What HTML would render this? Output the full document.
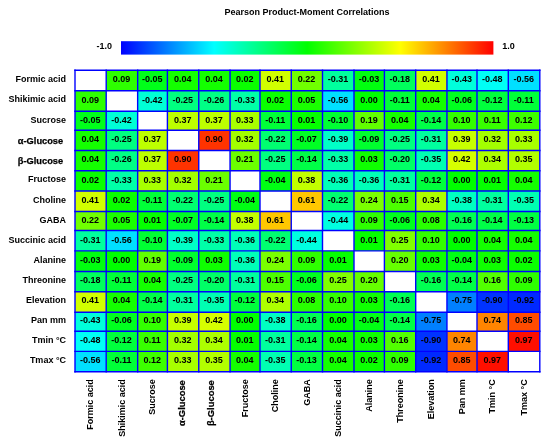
<!DOCTYPE html>
<html><head><meta charset="utf-8"><title>Pearson Product-Moment Correlations</title>
<style>
html,body{margin:0;padding:0;background:#fff;}
body{width:550px;height:448px;overflow:hidden;}
svg{display:block;}
text{font-family:"Liberation Sans",Arial,Helvetica,sans-serif;font-weight:bold;font-size:9px;fill:#000;}
</style></head><body>
<svg width="550" height="448" viewBox="0 0 550 448">
<defs><linearGradient id="cb" x1="0" y1="0" x2="1" y2="0">
<stop offset="0" stop-color="#0000ff"/><stop offset="0.25" stop-color="#00ffff"/><stop offset="0.5" stop-color="#00ff00"/><stop offset="0.75" stop-color="#ffff00"/><stop offset="1" stop-color="#ff0000"/>
</linearGradient></defs>
<rect x="0" y="0" width="550" height="448" fill="#fff"/>
<text x="306.9" y="15" text-anchor="middle">Pearson Product-Moment Correlations</text>
<rect x="121" y="41.2" width="372.4" height="13.4" fill="url(#cb)"/>
<text x="112" y="49" text-anchor="end">-1.0</text>
<text x="502.3" y="49">1.0</text>
<g>
<rect x="106.20" y="70.30" width="31.45" height="20.50" fill="#2eff00"/>
<rect x="137.65" y="70.30" width="29.75" height="20.50" fill="#00ff1a"/>
<rect x="167.40" y="70.30" width="31.35" height="20.50" fill="#14ff00"/>
<rect x="198.75" y="70.30" width="31.30" height="20.50" fill="#14ff00"/>
<rect x="230.05" y="70.30" width="29.95" height="20.50" fill="#0aff00"/>
<rect x="260.00" y="70.30" width="31.25" height="20.50" fill="#d1ff00"/>
<rect x="291.25" y="70.30" width="31.25" height="20.50" fill="#70ff00"/>
<rect x="322.50" y="70.30" width="31.50" height="20.50" fill="#00ff9e"/>
<rect x="354.00" y="70.30" width="30.40" height="20.50" fill="#00ff0f"/>
<rect x="384.40" y="70.30" width="31.30" height="20.50" fill="#00ff5c"/>
<rect x="415.70" y="70.30" width="31.25" height="20.50" fill="#d1ff00"/>
<rect x="446.95" y="70.30" width="30.05" height="20.50" fill="#00ffdb"/>
<rect x="477.00" y="70.30" width="31.30" height="20.50" fill="#00fff5"/>
<rect x="508.30" y="70.30" width="31.50" height="20.50" fill="#00e0ff"/>
<rect x="75.00" y="90.80" width="31.20" height="20.40" fill="#2eff00"/>
<rect x="137.65" y="90.80" width="29.75" height="20.40" fill="#00ffd6"/>
<rect x="167.40" y="90.80" width="31.35" height="20.40" fill="#00ff80"/>
<rect x="198.75" y="90.80" width="31.30" height="20.40" fill="#00ff85"/>
<rect x="230.05" y="90.80" width="29.95" height="20.40" fill="#00ffa8"/>
<rect x="260.00" y="90.80" width="31.25" height="20.40" fill="#0aff00"/>
<rect x="291.25" y="90.80" width="31.25" height="20.40" fill="#1aff00"/>
<rect x="322.50" y="90.80" width="31.50" height="20.40" fill="#00e0ff"/>
<rect x="354.00" y="90.80" width="30.40" height="20.40" fill="#00ff00"/>
<rect x="384.40" y="90.80" width="31.30" height="20.40" fill="#00ff38"/>
<rect x="415.70" y="90.80" width="31.25" height="20.40" fill="#14ff00"/>
<rect x="446.95" y="90.80" width="30.05" height="20.40" fill="#00ff1f"/>
<rect x="477.00" y="90.80" width="31.30" height="20.40" fill="#00ff3d"/>
<rect x="508.30" y="90.80" width="31.50" height="20.40" fill="#00ff38"/>
<rect x="75.00" y="111.20" width="31.20" height="19.10" fill="#00ff1a"/>
<rect x="106.20" y="111.20" width="31.45" height="19.10" fill="#00ffd6"/>
<rect x="167.40" y="111.20" width="31.35" height="19.10" fill="#bdff00"/>
<rect x="198.75" y="111.20" width="31.30" height="19.10" fill="#bdff00"/>
<rect x="230.05" y="111.20" width="29.95" height="19.10" fill="#a8ff00"/>
<rect x="260.00" y="111.20" width="31.25" height="19.10" fill="#00ff38"/>
<rect x="291.25" y="111.20" width="31.25" height="19.10" fill="#05ff00"/>
<rect x="322.50" y="111.20" width="31.50" height="19.10" fill="#00ff33"/>
<rect x="354.00" y="111.20" width="30.40" height="19.10" fill="#61ff00"/>
<rect x="384.40" y="111.20" width="31.30" height="19.10" fill="#14ff00"/>
<rect x="415.70" y="111.20" width="31.25" height="19.10" fill="#00ff47"/>
<rect x="446.95" y="111.20" width="30.05" height="19.10" fill="#33ff00"/>
<rect x="477.00" y="111.20" width="31.30" height="19.10" fill="#38ff00"/>
<rect x="508.30" y="111.20" width="31.50" height="19.10" fill="#3dff00"/>
<rect x="75.00" y="130.30" width="31.20" height="20.25" fill="#14ff00"/>
<rect x="106.20" y="130.30" width="31.45" height="20.25" fill="#00ff80"/>
<rect x="137.65" y="130.30" width="29.75" height="20.25" fill="#bdff00"/>
<rect x="198.75" y="130.30" width="31.30" height="20.25" fill="#ff3300"/>
<rect x="230.05" y="130.30" width="29.95" height="20.25" fill="#a3ff00"/>
<rect x="260.00" y="130.30" width="31.25" height="20.25" fill="#00ff70"/>
<rect x="291.25" y="130.30" width="31.25" height="20.25" fill="#00ff24"/>
<rect x="322.50" y="130.30" width="31.50" height="20.25" fill="#00ffc7"/>
<rect x="354.00" y="130.30" width="30.40" height="20.25" fill="#00ff2e"/>
<rect x="384.40" y="130.30" width="31.30" height="20.25" fill="#00ff80"/>
<rect x="415.70" y="130.30" width="31.25" height="20.25" fill="#00ff9e"/>
<rect x="446.95" y="130.30" width="30.05" height="20.25" fill="#c7ff00"/>
<rect x="477.00" y="130.30" width="31.30" height="20.25" fill="#a3ff00"/>
<rect x="508.30" y="130.30" width="31.50" height="20.25" fill="#a8ff00"/>
<rect x="75.00" y="150.55" width="31.20" height="20.25" fill="#14ff00"/>
<rect x="106.20" y="150.55" width="31.45" height="20.25" fill="#00ff85"/>
<rect x="137.65" y="150.55" width="29.75" height="20.25" fill="#bdff00"/>
<rect x="167.40" y="150.55" width="31.35" height="20.25" fill="#ff3300"/>
<rect x="230.05" y="150.55" width="29.95" height="20.25" fill="#6bff00"/>
<rect x="260.00" y="150.55" width="31.25" height="20.25" fill="#00ff80"/>
<rect x="291.25" y="150.55" width="31.25" height="20.25" fill="#00ff47"/>
<rect x="322.50" y="150.55" width="31.50" height="20.25" fill="#00ffa8"/>
<rect x="354.00" y="150.55" width="30.40" height="20.25" fill="#0fff00"/>
<rect x="384.40" y="150.55" width="31.30" height="20.25" fill="#00ff66"/>
<rect x="415.70" y="150.55" width="31.25" height="20.25" fill="#00ffb2"/>
<rect x="446.95" y="150.55" width="30.05" height="20.25" fill="#d6ff00"/>
<rect x="477.00" y="150.55" width="31.30" height="20.25" fill="#adff00"/>
<rect x="508.30" y="150.55" width="31.50" height="20.25" fill="#b2ff00"/>
<rect x="75.00" y="170.80" width="31.20" height="20.25" fill="#0aff00"/>
<rect x="106.20" y="170.80" width="31.45" height="20.25" fill="#00ffa8"/>
<rect x="137.65" y="170.80" width="29.75" height="20.25" fill="#a8ff00"/>
<rect x="167.40" y="170.80" width="31.35" height="20.25" fill="#a3ff00"/>
<rect x="198.75" y="170.80" width="31.30" height="20.25" fill="#6bff00"/>
<rect x="260.00" y="170.80" width="31.25" height="20.25" fill="#00ff14"/>
<rect x="291.25" y="170.80" width="31.25" height="20.25" fill="#c2ff00"/>
<rect x="322.50" y="170.80" width="31.50" height="20.25" fill="#00ffb8"/>
<rect x="354.00" y="170.80" width="30.40" height="20.25" fill="#00ffb8"/>
<rect x="384.40" y="170.80" width="31.30" height="20.25" fill="#00ff9e"/>
<rect x="415.70" y="170.80" width="31.25" height="20.25" fill="#00ff3d"/>
<rect x="446.95" y="170.80" width="30.05" height="20.25" fill="#00ff00"/>
<rect x="477.00" y="170.80" width="31.30" height="20.25" fill="#05ff00"/>
<rect x="508.30" y="170.80" width="31.50" height="20.25" fill="#14ff00"/>
<rect x="75.00" y="191.05" width="31.20" height="20.40" fill="#d1ff00"/>
<rect x="106.20" y="191.05" width="31.45" height="20.40" fill="#0aff00"/>
<rect x="137.65" y="191.05" width="29.75" height="20.40" fill="#00ff38"/>
<rect x="167.40" y="191.05" width="31.35" height="20.40" fill="#00ff70"/>
<rect x="198.75" y="191.05" width="31.30" height="20.40" fill="#00ff80"/>
<rect x="230.05" y="191.05" width="29.95" height="20.40" fill="#00ff14"/>
<rect x="291.25" y="191.05" width="31.25" height="20.40" fill="#ffc700"/>
<rect x="322.50" y="191.05" width="31.50" height="20.40" fill="#00ff70"/>
<rect x="354.00" y="191.05" width="30.40" height="20.40" fill="#7aff00"/>
<rect x="384.40" y="191.05" width="31.30" height="20.40" fill="#4cff00"/>
<rect x="415.70" y="191.05" width="31.25" height="20.40" fill="#adff00"/>
<rect x="446.95" y="191.05" width="30.05" height="20.40" fill="#00ffc2"/>
<rect x="477.00" y="191.05" width="31.30" height="20.40" fill="#00ff9e"/>
<rect x="508.30" y="191.05" width="31.50" height="20.40" fill="#00ffb2"/>
<rect x="75.00" y="211.45" width="31.20" height="19.00" fill="#70ff00"/>
<rect x="106.20" y="211.45" width="31.45" height="19.00" fill="#1aff00"/>
<rect x="137.65" y="211.45" width="29.75" height="19.00" fill="#05ff00"/>
<rect x="167.40" y="211.45" width="31.35" height="19.00" fill="#00ff24"/>
<rect x="198.75" y="211.45" width="31.30" height="19.00" fill="#00ff47"/>
<rect x="230.05" y="211.45" width="29.95" height="19.00" fill="#c2ff00"/>
<rect x="260.00" y="211.45" width="31.25" height="19.00" fill="#ffc700"/>
<rect x="322.50" y="211.45" width="31.50" height="19.00" fill="#00ffe0"/>
<rect x="354.00" y="211.45" width="30.40" height="19.00" fill="#2eff00"/>
<rect x="384.40" y="211.45" width="31.30" height="19.00" fill="#00ff1f"/>
<rect x="415.70" y="211.45" width="31.25" height="19.00" fill="#29ff00"/>
<rect x="446.95" y="211.45" width="30.05" height="19.00" fill="#00ff52"/>
<rect x="477.00" y="211.45" width="31.30" height="19.00" fill="#00ff47"/>
<rect x="508.30" y="211.45" width="31.50" height="19.00" fill="#00ff42"/>
<rect x="75.00" y="230.45" width="31.20" height="20.45" fill="#00ff9e"/>
<rect x="106.20" y="230.45" width="31.45" height="20.45" fill="#00e0ff"/>
<rect x="137.65" y="230.45" width="29.75" height="20.45" fill="#00ff33"/>
<rect x="167.40" y="230.45" width="31.35" height="20.45" fill="#00ffc7"/>
<rect x="198.75" y="230.45" width="31.30" height="20.45" fill="#00ffa8"/>
<rect x="230.05" y="230.45" width="29.95" height="20.45" fill="#00ffb8"/>
<rect x="260.00" y="230.45" width="31.25" height="20.45" fill="#00ff70"/>
<rect x="291.25" y="230.45" width="31.25" height="20.45" fill="#00ffe0"/>
<rect x="354.00" y="230.45" width="30.40" height="20.45" fill="#05ff00"/>
<rect x="384.40" y="230.45" width="31.30" height="20.45" fill="#80ff00"/>
<rect x="415.70" y="230.45" width="31.25" height="20.45" fill="#33ff00"/>
<rect x="446.95" y="230.45" width="30.05" height="20.45" fill="#00ff00"/>
<rect x="477.00" y="230.45" width="31.30" height="20.45" fill="#14ff00"/>
<rect x="508.30" y="230.45" width="31.50" height="20.45" fill="#14ff00"/>
<rect x="75.00" y="250.90" width="31.20" height="20.60" fill="#00ff0f"/>
<rect x="106.20" y="250.90" width="31.45" height="20.60" fill="#00ff00"/>
<rect x="137.65" y="250.90" width="29.75" height="20.60" fill="#61ff00"/>
<rect x="167.40" y="250.90" width="31.35" height="20.60" fill="#00ff2e"/>
<rect x="198.75" y="250.90" width="31.30" height="20.60" fill="#0fff00"/>
<rect x="230.05" y="250.90" width="29.95" height="20.60" fill="#00ffb8"/>
<rect x="260.00" y="250.90" width="31.25" height="20.60" fill="#7aff00"/>
<rect x="291.25" y="250.90" width="31.25" height="20.60" fill="#2eff00"/>
<rect x="322.50" y="250.90" width="31.50" height="20.60" fill="#05ff00"/>
<rect x="384.40" y="250.90" width="31.30" height="20.60" fill="#66ff00"/>
<rect x="415.70" y="250.90" width="31.25" height="20.60" fill="#0fff00"/>
<rect x="446.95" y="250.90" width="30.05" height="20.60" fill="#00ff14"/>
<rect x="477.00" y="250.90" width="31.30" height="20.60" fill="#0fff00"/>
<rect x="508.30" y="250.90" width="31.50" height="20.60" fill="#0aff00"/>
<rect x="75.00" y="271.50" width="31.20" height="20.20" fill="#00ff5c"/>
<rect x="106.20" y="271.50" width="31.45" height="20.20" fill="#00ff38"/>
<rect x="137.65" y="271.50" width="29.75" height="20.20" fill="#14ff00"/>
<rect x="167.40" y="271.50" width="31.35" height="20.20" fill="#00ff80"/>
<rect x="198.75" y="271.50" width="31.30" height="20.20" fill="#00ff66"/>
<rect x="230.05" y="271.50" width="29.95" height="20.20" fill="#00ff9e"/>
<rect x="260.00" y="271.50" width="31.25" height="20.20" fill="#4cff00"/>
<rect x="291.25" y="271.50" width="31.25" height="20.20" fill="#00ff1f"/>
<rect x="322.50" y="271.50" width="31.50" height="20.20" fill="#80ff00"/>
<rect x="354.00" y="271.50" width="30.40" height="20.20" fill="#66ff00"/>
<rect x="415.70" y="271.50" width="31.25" height="20.20" fill="#00ff52"/>
<rect x="446.95" y="271.50" width="30.05" height="20.20" fill="#00ff47"/>
<rect x="477.00" y="271.50" width="31.30" height="20.20" fill="#52ff00"/>
<rect x="508.30" y="271.50" width="31.50" height="20.20" fill="#2eff00"/>
<rect x="75.00" y="291.70" width="31.20" height="20.50" fill="#d1ff00"/>
<rect x="106.20" y="291.70" width="31.45" height="20.50" fill="#14ff00"/>
<rect x="137.65" y="291.70" width="29.75" height="20.50" fill="#00ff47"/>
<rect x="167.40" y="291.70" width="31.35" height="20.50" fill="#00ff9e"/>
<rect x="198.75" y="291.70" width="31.30" height="20.50" fill="#00ffb2"/>
<rect x="230.05" y="291.70" width="29.95" height="20.50" fill="#00ff3d"/>
<rect x="260.00" y="291.70" width="31.25" height="20.50" fill="#adff00"/>
<rect x="291.25" y="291.70" width="31.25" height="20.50" fill="#29ff00"/>
<rect x="322.50" y="291.70" width="31.50" height="20.50" fill="#33ff00"/>
<rect x="354.00" y="291.70" width="30.40" height="20.50" fill="#0fff00"/>
<rect x="384.40" y="291.70" width="31.30" height="20.50" fill="#00ff52"/>
<rect x="446.95" y="291.70" width="30.05" height="20.50" fill="#0080ff"/>
<rect x="477.00" y="291.70" width="31.30" height="20.50" fill="#0033ff"/>
<rect x="508.30" y="291.70" width="31.50" height="20.50" fill="#0029ff"/>
<rect x="75.00" y="312.20" width="31.20" height="19.10" fill="#00ffdb"/>
<rect x="106.20" y="312.20" width="31.45" height="19.10" fill="#00ff1f"/>
<rect x="137.65" y="312.20" width="29.75" height="19.10" fill="#33ff00"/>
<rect x="167.40" y="312.20" width="31.35" height="19.10" fill="#c7ff00"/>
<rect x="198.75" y="312.20" width="31.30" height="19.10" fill="#d6ff00"/>
<rect x="230.05" y="312.20" width="29.95" height="19.10" fill="#00ff00"/>
<rect x="260.00" y="312.20" width="31.25" height="19.10" fill="#00ffc2"/>
<rect x="291.25" y="312.20" width="31.25" height="19.10" fill="#00ff52"/>
<rect x="322.50" y="312.20" width="31.50" height="19.10" fill="#00ff00"/>
<rect x="354.00" y="312.20" width="30.40" height="19.10" fill="#00ff14"/>
<rect x="384.40" y="312.20" width="31.30" height="19.10" fill="#00ff47"/>
<rect x="415.70" y="312.20" width="31.25" height="19.10" fill="#0080ff"/>
<rect x="477.00" y="312.20" width="31.30" height="19.10" fill="#ff8500"/>
<rect x="508.30" y="312.20" width="31.50" height="19.10" fill="#ff4c00"/>
<rect x="75.00" y="331.30" width="31.20" height="20.10" fill="#00fff5"/>
<rect x="106.20" y="331.30" width="31.45" height="20.10" fill="#00ff3d"/>
<rect x="137.65" y="331.30" width="29.75" height="20.10" fill="#38ff00"/>
<rect x="167.40" y="331.30" width="31.35" height="20.10" fill="#a3ff00"/>
<rect x="198.75" y="331.30" width="31.30" height="20.10" fill="#adff00"/>
<rect x="230.05" y="331.30" width="29.95" height="20.10" fill="#05ff00"/>
<rect x="260.00" y="331.30" width="31.25" height="20.10" fill="#00ff9e"/>
<rect x="291.25" y="331.30" width="31.25" height="20.10" fill="#00ff47"/>
<rect x="322.50" y="331.30" width="31.50" height="20.10" fill="#14ff00"/>
<rect x="354.00" y="331.30" width="30.40" height="20.10" fill="#0fff00"/>
<rect x="384.40" y="331.30" width="31.30" height="20.10" fill="#52ff00"/>
<rect x="415.70" y="331.30" width="31.25" height="20.10" fill="#0033ff"/>
<rect x="446.95" y="331.30" width="30.05" height="20.10" fill="#ff8500"/>
<rect x="508.30" y="331.30" width="31.50" height="20.10" fill="#ff0f00"/>
<rect x="75.00" y="351.40" width="31.20" height="20.40" fill="#00e0ff"/>
<rect x="106.20" y="351.40" width="31.45" height="20.40" fill="#00ff38"/>
<rect x="137.65" y="351.40" width="29.75" height="20.40" fill="#3dff00"/>
<rect x="167.40" y="351.40" width="31.35" height="20.40" fill="#a8ff00"/>
<rect x="198.75" y="351.40" width="31.30" height="20.40" fill="#b2ff00"/>
<rect x="230.05" y="351.40" width="29.95" height="20.40" fill="#14ff00"/>
<rect x="260.00" y="351.40" width="31.25" height="20.40" fill="#00ffb2"/>
<rect x="291.25" y="351.40" width="31.25" height="20.40" fill="#00ff42"/>
<rect x="322.50" y="351.40" width="31.50" height="20.40" fill="#14ff00"/>
<rect x="354.00" y="351.40" width="30.40" height="20.40" fill="#0aff00"/>
<rect x="384.40" y="351.40" width="31.30" height="20.40" fill="#2eff00"/>
<rect x="415.70" y="351.40" width="31.25" height="20.40" fill="#0029ff"/>
<rect x="446.95" y="351.40" width="30.05" height="20.40" fill="#ff4c00"/>
<rect x="477.00" y="351.40" width="31.30" height="20.40" fill="#ff0f00"/>
</g>
<g stroke="#0000ff" stroke-width="1.4" fill="none" stroke-linecap="square">
<line x1="75.00" y1="70.30" x2="75.00" y2="371.80"/>
<line x1="75.00" y1="70.30" x2="539.80" y2="70.30"/>
<line x1="106.20" y1="70.30" x2="106.20" y2="371.80"/>
<line x1="75.00" y1="90.80" x2="539.80" y2="90.80"/>
<line x1="137.65" y1="70.30" x2="137.65" y2="371.80"/>
<line x1="75.00" y1="111.20" x2="539.80" y2="111.20"/>
<line x1="167.40" y1="70.30" x2="167.40" y2="371.80"/>
<line x1="75.00" y1="130.30" x2="539.80" y2="130.30"/>
<line x1="198.75" y1="70.30" x2="198.75" y2="371.80"/>
<line x1="75.00" y1="150.55" x2="539.80" y2="150.55"/>
<line x1="230.05" y1="70.30" x2="230.05" y2="371.80"/>
<line x1="75.00" y1="170.80" x2="539.80" y2="170.80"/>
<line x1="260.00" y1="70.30" x2="260.00" y2="371.80"/>
<line x1="75.00" y1="191.05" x2="539.80" y2="191.05"/>
<line x1="291.25" y1="70.30" x2="291.25" y2="371.80"/>
<line x1="75.00" y1="211.45" x2="539.80" y2="211.45"/>
<line x1="322.50" y1="70.30" x2="322.50" y2="371.80"/>
<line x1="75.00" y1="230.45" x2="539.80" y2="230.45"/>
<line x1="354.00" y1="70.30" x2="354.00" y2="371.80"/>
<line x1="75.00" y1="250.90" x2="539.80" y2="250.90"/>
<line x1="384.40" y1="70.30" x2="384.40" y2="371.80"/>
<line x1="75.00" y1="271.50" x2="539.80" y2="271.50"/>
<line x1="415.70" y1="70.30" x2="415.70" y2="371.80"/>
<line x1="75.00" y1="291.70" x2="539.80" y2="291.70"/>
<line x1="446.95" y1="70.30" x2="446.95" y2="371.80"/>
<line x1="75.00" y1="312.20" x2="539.80" y2="312.20"/>
<line x1="477.00" y1="70.30" x2="477.00" y2="371.80"/>
<line x1="75.00" y1="331.30" x2="539.80" y2="331.30"/>
<line x1="508.30" y1="70.30" x2="508.30" y2="371.80"/>
<line x1="75.00" y1="351.40" x2="539.80" y2="351.40"/>
<line x1="539.80" y1="70.30" x2="539.80" y2="371.80"/>
<line x1="75.00" y1="371.80" x2="539.80" y2="371.80"/>
</g>
<g text-anchor="middle" style="font-size:9.5px">
<text x="121.63" y="82.00">0.09</text>
<text x="152.22" y="82.00">-0.05</text>
<text x="182.77" y="82.00">0.04</text>
<text x="214.10" y="82.00">0.04</text>
<text x="244.72" y="82.00">0.02</text>
<text x="275.32" y="82.00">0.41</text>
<text x="306.57" y="82.00">0.22</text>
<text x="337.95" y="82.00">-0.31</text>
<text x="368.90" y="82.00">-0.03</text>
<text x="399.75" y="82.00">-0.18</text>
<text x="431.02" y="82.00">0.41</text>
<text x="461.68" y="82.00">-0.43</text>
<text x="492.35" y="82.00">-0.48</text>
<text x="523.75" y="82.00">-0.56</text>
<text x="90.30" y="102.50">0.09</text>
<text x="152.22" y="102.50">-0.42</text>
<text x="182.77" y="102.50">-0.25</text>
<text x="214.10" y="102.50">-0.26</text>
<text x="244.72" y="102.50">-0.33</text>
<text x="275.32" y="102.50">0.02</text>
<text x="306.57" y="102.50">0.05</text>
<text x="337.95" y="102.50">-0.56</text>
<text x="368.90" y="102.50">0.00</text>
<text x="399.75" y="102.50">-0.11</text>
<text x="431.02" y="102.50">0.04</text>
<text x="461.68" y="102.50">-0.06</text>
<text x="492.35" y="102.50">-0.12</text>
<text x="523.75" y="102.50">-0.11</text>
<text x="90.30" y="122.90">-0.05</text>
<text x="121.63" y="122.90">-0.42</text>
<text x="182.77" y="122.90">0.37</text>
<text x="214.10" y="122.90">0.37</text>
<text x="244.72" y="122.90">0.33</text>
<text x="275.32" y="122.90">-0.11</text>
<text x="306.57" y="122.90">0.01</text>
<text x="337.95" y="122.90">-0.10</text>
<text x="368.90" y="122.90">0.19</text>
<text x="399.75" y="122.90">0.04</text>
<text x="431.02" y="122.90">-0.14</text>
<text x="461.68" y="122.90">0.10</text>
<text x="492.35" y="122.90">0.11</text>
<text x="523.75" y="122.90">0.12</text>
<text x="90.30" y="142.00">0.04</text>
<text x="121.63" y="142.00">-0.25</text>
<text x="152.22" y="142.00">0.37</text>
<text x="214.10" y="142.00">0.90</text>
<text x="244.72" y="142.00">0.32</text>
<text x="275.32" y="142.00">-0.22</text>
<text x="306.57" y="142.00">-0.07</text>
<text x="337.95" y="142.00">-0.39</text>
<text x="368.90" y="142.00">-0.09</text>
<text x="399.75" y="142.00">-0.25</text>
<text x="431.02" y="142.00">-0.31</text>
<text x="461.68" y="142.00">0.39</text>
<text x="492.35" y="142.00">0.32</text>
<text x="523.75" y="142.00">0.33</text>
<text x="90.30" y="162.25">0.04</text>
<text x="121.63" y="162.25">-0.26</text>
<text x="152.22" y="162.25">0.37</text>
<text x="182.77" y="162.25">0.90</text>
<text x="244.72" y="162.25">0.21</text>
<text x="275.32" y="162.25">-0.25</text>
<text x="306.57" y="162.25">-0.14</text>
<text x="337.95" y="162.25">-0.33</text>
<text x="368.90" y="162.25">0.03</text>
<text x="399.75" y="162.25">-0.20</text>
<text x="431.02" y="162.25">-0.35</text>
<text x="461.68" y="162.25">0.42</text>
<text x="492.35" y="162.25">0.34</text>
<text x="523.75" y="162.25">0.35</text>
<text x="90.30" y="182.50">0.02</text>
<text x="121.63" y="182.50">-0.33</text>
<text x="152.22" y="182.50">0.33</text>
<text x="182.77" y="182.50">0.32</text>
<text x="214.10" y="182.50">0.21</text>
<text x="275.32" y="182.50">-0.04</text>
<text x="306.57" y="182.50">0.38</text>
<text x="337.95" y="182.50">-0.36</text>
<text x="368.90" y="182.50">-0.36</text>
<text x="399.75" y="182.50">-0.31</text>
<text x="431.02" y="182.50">-0.12</text>
<text x="461.68" y="182.50">0.00</text>
<text x="492.35" y="182.50">0.01</text>
<text x="523.75" y="182.50">0.04</text>
<text x="90.30" y="202.75">0.41</text>
<text x="121.63" y="202.75">0.02</text>
<text x="152.22" y="202.75">-0.11</text>
<text x="182.77" y="202.75">-0.22</text>
<text x="214.10" y="202.75">-0.25</text>
<text x="244.72" y="202.75">-0.04</text>
<text x="306.57" y="202.75">0.61</text>
<text x="337.95" y="202.75">-0.22</text>
<text x="368.90" y="202.75">0.24</text>
<text x="399.75" y="202.75">0.15</text>
<text x="431.02" y="202.75">0.34</text>
<text x="461.68" y="202.75">-0.38</text>
<text x="492.35" y="202.75">-0.31</text>
<text x="523.75" y="202.75">-0.35</text>
<text x="90.30" y="223.15">0.22</text>
<text x="121.63" y="223.15">0.05</text>
<text x="152.22" y="223.15">0.01</text>
<text x="182.77" y="223.15">-0.07</text>
<text x="214.10" y="223.15">-0.14</text>
<text x="244.72" y="223.15">0.38</text>
<text x="275.32" y="223.15">0.61</text>
<text x="337.95" y="223.15">-0.44</text>
<text x="368.90" y="223.15">0.09</text>
<text x="399.75" y="223.15">-0.06</text>
<text x="431.02" y="223.15">0.08</text>
<text x="461.68" y="223.15">-0.16</text>
<text x="492.35" y="223.15">-0.14</text>
<text x="523.75" y="223.15">-0.13</text>
<text x="90.30" y="242.85">-0.31</text>
<text x="121.63" y="242.85">-0.56</text>
<text x="152.22" y="242.85">-0.10</text>
<text x="182.77" y="242.85">-0.39</text>
<text x="214.10" y="242.85">-0.33</text>
<text x="244.72" y="242.85">-0.36</text>
<text x="275.32" y="242.85">-0.22</text>
<text x="306.57" y="242.85">-0.44</text>
<text x="368.90" y="242.85">0.01</text>
<text x="399.75" y="242.85">0.25</text>
<text x="431.02" y="242.85">0.10</text>
<text x="461.68" y="242.85">0.00</text>
<text x="492.35" y="242.85">0.04</text>
<text x="523.75" y="242.85">0.04</text>
<text x="90.30" y="262.60">-0.03</text>
<text x="121.63" y="262.60">0.00</text>
<text x="152.22" y="262.60">0.19</text>
<text x="182.77" y="262.60">-0.09</text>
<text x="214.10" y="262.60">0.03</text>
<text x="244.72" y="262.60">-0.36</text>
<text x="275.32" y="262.60">0.24</text>
<text x="306.57" y="262.60">0.09</text>
<text x="337.95" y="262.60">0.01</text>
<text x="399.75" y="262.60">0.20</text>
<text x="431.02" y="262.60">0.03</text>
<text x="461.68" y="262.60">-0.04</text>
<text x="492.35" y="262.60">0.03</text>
<text x="523.75" y="262.60">0.02</text>
<text x="90.30" y="283.20">-0.18</text>
<text x="121.63" y="283.20">-0.11</text>
<text x="152.22" y="283.20">0.04</text>
<text x="182.77" y="283.20">-0.25</text>
<text x="214.10" y="283.20">-0.20</text>
<text x="244.72" y="283.20">-0.31</text>
<text x="275.32" y="283.20">0.15</text>
<text x="306.57" y="283.20">-0.06</text>
<text x="337.95" y="283.20">0.25</text>
<text x="368.90" y="283.20">0.20</text>
<text x="431.02" y="283.20">-0.16</text>
<text x="461.68" y="283.20">-0.14</text>
<text x="492.35" y="283.20">0.16</text>
<text x="523.75" y="283.20">0.09</text>
<text x="90.30" y="303.40">0.41</text>
<text x="121.63" y="303.40">0.04</text>
<text x="152.22" y="303.40">-0.14</text>
<text x="182.77" y="303.40">-0.31</text>
<text x="214.10" y="303.40">-0.35</text>
<text x="244.72" y="303.40">-0.12</text>
<text x="275.32" y="303.40">0.34</text>
<text x="306.57" y="303.40">0.08</text>
<text x="337.95" y="303.40">0.10</text>
<text x="368.90" y="303.40">0.03</text>
<text x="399.75" y="303.40">-0.16</text>
<text x="461.68" y="303.40">-0.75</text>
<text x="492.35" y="303.40">-0.90</text>
<text x="523.75" y="303.40">-0.92</text>
<text x="90.30" y="323.30">-0.43</text>
<text x="121.63" y="323.30">-0.06</text>
<text x="152.22" y="323.30">0.10</text>
<text x="182.77" y="323.30">0.39</text>
<text x="214.10" y="323.30">0.42</text>
<text x="244.72" y="323.30">0.00</text>
<text x="275.32" y="323.30">-0.38</text>
<text x="306.57" y="323.30">-0.16</text>
<text x="337.95" y="323.30">0.00</text>
<text x="368.90" y="323.30">-0.04</text>
<text x="399.75" y="323.30">-0.14</text>
<text x="431.02" y="323.30">-0.75</text>
<text x="492.35" y="323.30">0.74</text>
<text x="523.75" y="323.30">0.85</text>
<text x="90.30" y="343.00">-0.48</text>
<text x="121.63" y="343.00">-0.12</text>
<text x="152.22" y="343.00">0.11</text>
<text x="182.77" y="343.00">0.32</text>
<text x="214.10" y="343.00">0.34</text>
<text x="244.72" y="343.00">0.01</text>
<text x="275.32" y="343.00">-0.31</text>
<text x="306.57" y="343.00">-0.14</text>
<text x="337.95" y="343.00">0.04</text>
<text x="368.90" y="343.00">0.03</text>
<text x="399.75" y="343.00">0.16</text>
<text x="431.02" y="343.00">-0.90</text>
<text x="461.68" y="343.00">0.74</text>
<text x="523.75" y="343.00">0.97</text>
<text x="90.30" y="363.10">-0.56</text>
<text x="121.63" y="363.10">-0.11</text>
<text x="152.22" y="363.10">0.12</text>
<text x="182.77" y="363.10">0.33</text>
<text x="214.10" y="363.10">0.35</text>
<text x="244.72" y="363.10">0.04</text>
<text x="275.32" y="363.10">-0.35</text>
<text x="306.57" y="363.10">-0.13</text>
<text x="337.95" y="363.10">0.04</text>
<text x="368.90" y="363.10">0.02</text>
<text x="399.75" y="363.10">0.09</text>
<text x="431.02" y="363.10">-0.92</text>
<text x="461.68" y="363.10">0.85</text>
<text x="492.35" y="363.10">0.97</text>
</g>
<g text-anchor="end" style="font-size:9.4px">
<text x="66" y="81.90">Formic acid</text>
<text x="66" y="102.40">Shikimic acid</text>
<text x="66" y="122.80">Sucrose</text>
<text x="63.2" y="143.70" style="font-size:9.8px;stroke:#000;stroke-width:0.25px" textLength="45.4" lengthAdjust="spacingAndGlyphs">α-Glucose</text>
<text x="63.2" y="163.95" style="font-size:9.8px;stroke:#000;stroke-width:0.25px" textLength="45.4" lengthAdjust="spacingAndGlyphs">β-Glucose</text>
<text x="66" y="182.40">Fructose</text>
<text x="66" y="202.65">Choline</text>
<text x="66" y="223.05">GABA</text>
<text x="66" y="242.75">Succinic acid</text>
<text x="66" y="262.50">Alanine</text>
<text x="66" y="283.10">Threonine</text>
<text x="66" y="303.30">Elevation</text>
<text x="66" y="323.20">Pan mm</text>
<text x="66" y="342.90">Tmin °C</text>
<text x="66" y="363.00">Tmax °C</text>
</g>
<g text-anchor="end" style="font-size:9.8px">
<text transform="translate(93.30,379.3) rotate(-90)" x="0" y="0">Formic acid</text>
<text transform="translate(124.63,379.3) rotate(-90)" x="0" y="0">Shikimic acid</text>
<text transform="translate(155.22,379.3) rotate(-90)" x="0" y="0">Sucrose</text>
<text transform="translate(184.87,380.2) rotate(-90)" x="0" y="0" style="font-size:9.8px;stroke:#000;stroke-width:0.25px" textLength="45.8" lengthAdjust="spacingAndGlyphs">α-Glucose</text>
<text transform="translate(214.00,380.2) rotate(-90)" x="0" y="0" style="font-size:9.8px;stroke:#000;stroke-width:0.25px" textLength="45.8" lengthAdjust="spacingAndGlyphs">β-Glucose</text>
<text transform="translate(247.72,379.3) rotate(-90)" x="0" y="0">Fructose</text>
<text transform="translate(278.32,379.3) rotate(-90)" x="0" y="0">Choline</text>
<text transform="translate(309.57,379.3) rotate(-90)" x="0" y="0">GABA</text>
<text transform="translate(340.95,379.3) rotate(-90)" x="0" y="0">Succinic acid</text>
<text transform="translate(371.90,379.3) rotate(-90)" x="0" y="0">Alanine</text>
<text transform="translate(402.75,379.3) rotate(-90)" x="0" y="0">Threonine</text>
<text transform="translate(434.02,379.3) rotate(-90)" x="0" y="0">Elevation</text>
<text transform="translate(464.68,379.3) rotate(-90)" x="0" y="0">Pan mm</text>
<text transform="translate(495.35,379.3) rotate(-90)" x="0" y="0">Tmin °C</text>
<text transform="translate(526.75,379.3) rotate(-90)" x="0" y="0">Tmax °C</text>
</g>
</svg></body></html>
